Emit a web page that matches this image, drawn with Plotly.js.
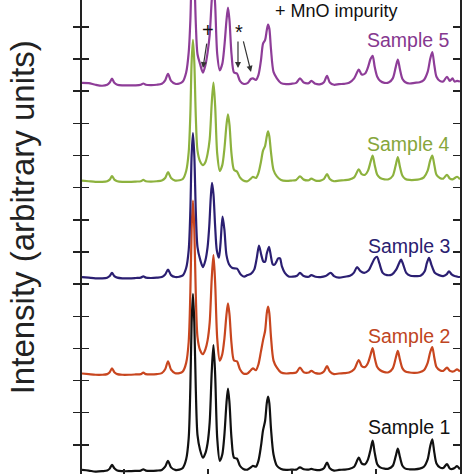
<!DOCTYPE html>
<html>
<head>
<meta charset="utf-8">
<script src="https://cdn.plot.ly/plotly-3.0.1.min.js"></script>
<style>
  html, body { margin: 0; padding: 0; background: #fff; overflow: hidden; }
  #chart { width: 474px; height: 500px; }
</style>
</head>
<body>
<div id="chart"></div>
<script>
// 2-theta grid (degrees) shared by samples 1, 2, 4 and 5
const twoThetaA = [
  15.0, 15.8, 16.6, 17.4, 18.0, 18.3, 18.57, 18.85, 19.2, 19.8, 20.6, 21.4, 22.0, 22.3, 22.6, 23.2, 23.9, 24.5, 24.9, 25.24, 25.6, 26.1, 26.6, 27.0, 27.4, 27.7,
  27.9, 28.05, 28.21, 28.37, 28.55, 28.75, 29.05, 29.4, 29.7, 29.95, 30.2, 30.45, 30.65, 30.85, 31.1, 31.4, 31.7, 31.95, 32.2, 32.38, 32.56, 32.8, 33.1, 33.45,
  33.8, 34.2, 34.7, 35.1, 35.35, 35.7, 36.0, 36.3, 36.55, 36.8, 37.0, 37.15, 37.3, 37.5, 37.8, 38.2, 38.7, 39.3, 39.9,
  40.5, 40.95, 41.4, 42.0, 42.3, 42.8, 43.4, 43.8, 44.17, 44.5, 45.0, 45.6, 46.2, 46.8, 47.4, 47.95, 48.3, 48.7, 49.05, 49.35,
  49.6, 49.85, 50.15, 50.5, 51.0, 51.5, 52.0, 52.35, 52.6, 52.85, 53.15, 53.5, 54.0, 54.6, 55.2, 55.7, 56.15, 56.45, 56.7, 56.95,
  57.2, 57.6, 58.0, 58.45, 58.8, 59.1, 59.35, 59.65, 60.0
];

// 2-theta grid (degrees) for sample 3
const twoThetaB = [
  15.0, 15.8, 16.6, 17.4, 18.0, 18.3, 18.57, 18.85, 19.2, 19.8, 20.6, 21.4, 22.0, 22.3, 22.6, 23.2, 23.9, 24.5, 24.9, 25.24, 25.6, 26.1, 26.6, 27.0, 27.4, 27.7,
  27.9, 28.05, 28.21, 28.37, 28.55, 28.75, 29.05, 29.4, 29.7, 29.95, 30.15, 30.33, 30.48, 30.65, 30.85, 31.05, 31.3, 31.5, 31.73, 31.95, 32.2, 32.5, 32.9, 33.45,
  33.9, 34.3, 34.7, 35.1, 35.5, 35.8, 36.07, 36.35, 36.6, 36.8, 37.0, 37.26, 37.5, 37.7, 37.9, 38.15, 38.35, 38.57, 38.8, 39.15, 39.6, 40.1,
  40.6, 40.95, 41.4, 42.0, 42.3, 42.8, 43.4, 44.0, 44.6, 45.0, 45.6, 46.3, 46.9, 47.35, 47.75, 48.15, 48.6, 49.1, 49.55, 49.85,
  50.12, 50.4, 50.8, 51.3, 51.9, 52.4, 52.75, 52.98, 53.25, 53.6, 54.1, 54.7, 55.3, 55.8, 56.05, 56.31, 56.6, 57.0, 57.5, 58.0,
  58.4, 58.69, 59.0, 59.35, 59.7, 60.0
];

// Measured intensities (arbitrary units, before stacking)
const sample1 = [
  0.02, 0.0, -0.03, -0.02, 0.0, 0.06, 0.18, 0.07, 0.0, -0.02, -0.02, -0.01, 0.0, 0.04, 0.0, -0.01, 0.0, 0.02, 0.12, 0.30, 0.10, 0.02, 0.03, 0.08, 0.35, 1.0,
  2.6, 4.6, 5.5, 4.6, 2.5, 1.1, 0.65, 0.4, 0.55, 0.85, 1.5, 3.1, 3.9, 3.0, 1.0, 0.3, 0.5, 1.1, 2.1, 2.55, 2.1, 1.0, 0.4, 0.37,
  0.15, 0.05, 0.03, 0.1, 0.15, 0.12, 0.3, 0.75, 1.25, 1.55, 2.1, 2.3, 2.1, 1.3, 0.5, 0.15, 0.05, 0.02, 0.03,
  0.03, 0.1, 0.04, 0.03, 0.05, 0.02, 0.02, 0.07, 0.25, 0.07, 0.0, 0.02, 0.03, 0.05, 0.12, 0.4, 0.22, 0.2, 0.35, 0.65,
  0.93, 0.55, 0.2, 0.1, 0.06, 0.06, 0.15, 0.45, 0.68, 0.42, 0.15, 0.06, 0.04, 0.04, 0.06, 0.12, 0.35, 0.75, 0.97, 0.55,
  0.22, 0.1, 0.08, 0.2, 0.06, 0.05, 0.08, 0.14, 0.04
];
const sample2 = [
  0.02, 0.0, -0.02, -0.02, 0.0, 0.06, 0.18, 0.06, 0.0, -0.02, -0.02, -0.01, 0.0, 0.05, 0.0, -0.01, 0.0, 0.03, 0.15, 0.4, 0.14, 0.03, 0.03, 0.08, 0.35, 1.0,
  2.55, 4.5, 5.4, 4.5, 2.45, 1.15, 0.75, 0.62, 0.78, 1.05, 1.6, 3.0, 3.7, 2.85, 1.1, 0.42, 0.62, 1.1, 1.85, 2.2, 1.85, 0.95, 0.42, 0.4,
  0.15, 0.02, 0.02, 0.12, 0.18, 0.12, 0.3, 0.7, 1.05, 1.35, 1.9, 2.1, 1.9, 1.15, 0.42, 0.2, 0.05, 0.02, 0.03,
  0.05, 0.2, 0.06, 0.05, 0.1, 0.03, 0.02, 0.08, 0.25, 0.08, 0.0, 0.02, 0.03, 0.05, 0.15, 0.44, 0.25, 0.22, 0.35, 0.6,
  0.81, 0.5, 0.22, 0.12, 0.06, 0.06, 0.18, 0.5, 0.72, 0.45, 0.18, 0.08, 0.05, 0.04, 0.06, 0.12, 0.35, 0.68, 0.84, 0.5,
  0.22, 0.12, 0.1, 0.2, 0.1, 0.08, 0.1, 0.15, 0.08
];
const sample3 = [
  0.02, 0.0, -0.02, -0.02, 0.0, 0.05, 0.15, 0.05, 0.0, -0.02, -0.02, -0.01, 0.0, 0.04, 0.0, -0.01, 0.0, 0.02, 0.1, 0.25, 0.08, 0.02, 0.03, 0.07, 0.3, 0.85,
  2.1, 3.8, 4.5, 3.8, 2.05, 0.95, 0.58, 0.33, 0.55, 0.95, 1.6, 2.5, 2.95, 2.6, 1.6, 0.85, 0.62, 1.1, 1.9, 1.5, 0.7, 0.42, 0.3, 0.28,
  0.1, 0.03, 0.08, 0.12, 0.25, 0.6, 1.0, 0.7, 0.5, 0.5, 0.75, 0.96, 0.65, 0.42, 0.4, 0.5, 0.6, 0.6, 0.35, 0.15, 0.04, 0.03,
  0.06, 0.15, 0.05, 0.03, 0.08, 0.03, 0.02, 0.05, 0.15, 0.05, 0.0, 0.03, 0.06, 0.15, 0.33, 0.2, 0.15, 0.22, 0.45, 0.6,
  0.65, 0.45, 0.15, 0.08, 0.1, 0.25, 0.45, 0.56, 0.4, 0.15, 0.06, 0.05, 0.06, 0.2, 0.45, 0.62, 0.4, 0.15, 0.08, 0.05,
  0.1, 0.2, 0.1, 0.05, 0.03, 0.02
];
const sample4 = [
  0.02, 0.0, -0.02, -0.02, 0.0, 0.05, 0.16, 0.05, 0.0, -0.02, -0.02, -0.01, 0.0, 0.04, 0.0, -0.01, 0.0, 0.02, 0.1, 0.28, 0.1, 0.02, 0.03, 0.07, 0.32, 0.9,
  2.1, 3.7, 4.4, 3.7, 2.0, 0.95, 0.62, 0.5, 0.6, 0.85, 1.3, 2.45, 3.07, 2.35, 0.85, 0.32, 0.5, 1.0, 1.75, 2.08, 1.75, 0.85, 0.35, 0.3,
  0.12, 0.02, 0.0, 0.08, 0.14, 0.1, 0.25, 0.6, 0.95, 1.1, 1.4, 1.55, 1.4, 0.9, 0.35, 0.15, 0.04, 0.01, 0.02,
  0.04, 0.15, 0.05, 0.03, 0.08, 0.02, 0.02, 0.07, 0.22, 0.07, 0.0, 0.02, 0.03, 0.05, 0.12, 0.37, 0.22, 0.2, 0.33, 0.6,
  0.8, 0.5, 0.2, 0.1, 0.06, 0.06, 0.17, 0.5, 0.75, 0.45, 0.17, 0.07, 0.04, 0.04, 0.06, 0.12, 0.33, 0.65, 0.8, 0.5,
  0.2, 0.1, 0.08, 0.2, 0.08, 0.06, 0.09, 0.14, 0.06
];
const sample5 = [
  0.06, 0.05, 0.0, -0.03, 0.0, 0.07, 0.19, 0.06, 0.0, -0.02, -0.02, -0.02, 0.0, 0.04, 0.0, -0.01, 0.0, 0.03, 0.14, 0.34, 0.12, 0.03, 0.04, 0.1, 0.38, 1.0,
  2.0, 3.4, 4.0, 3.4, 1.9, 0.95, 0.65, 0.38, 0.62, 1.0, 1.55, 2.65, 3.2, 2.5, 0.95, 0.45, 0.65, 1.2, 2.0, 2.4, 2.0, 0.95, 0.38, 0.35,
  0.12, 0.03, 0.05, 0.18, 0.2, 0.15, 0.3, 0.75, 1.28, 1.4, 1.7, 1.87, 1.75, 1.1, 0.4, 0.2, 0.05, 0.02, 0.03,
  0.06, 0.2, 0.07, 0.05, 0.12, 0.03, 0.02, 0.08, 0.28, 0.07, 0.0, 0.02, 0.03, 0.06, 0.2, 0.47, 0.32, 0.35, 0.55, 0.8,
  0.9, 0.55, 0.25, 0.12, 0.06, 0.07, 0.2, 0.55, 0.78, 0.48, 0.18, 0.08, 0.04, 0.06, 0.08, 0.15, 0.4, 0.8, 1.02, 0.6,
  0.25, 0.12, 0.1, 0.25, 0.12, 0.2, 0.1, 0.12, 0.1
];

const sampleNames = ['Sample 1', 'Sample 2', 'Sample 3', 'Sample 4', 'Sample 5'];
const stackOffsets = [0.2, 3.2, 6.2, 9.2, 12.2];

const colors = ['#111111', '#c8461f', '#2b1f72', '#8db23e', '#8e3d98'];
const labelColors = ['#111111', '#bf4522', '#2a2070', '#86a63b', '#86388f'];

const series = [
  { x: twoThetaA, y: sample1 },
  { x: twoThetaA, y: sample2 },
  { x: twoThetaB, y: sample3 },
  { x: twoThetaA, y: sample4 },
  { x: twoThetaA, y: sample5 }
];

const traces = series.map((s, i) => ({
  x: s.x,
  y: s.y.map(v => v + stackOffsets[i]),
  type: 'scatter',
  mode: 'lines',
  name: sampleNames[i],
  line: { color: colors[i], width: 2.2, shape: 'spline', smoothing: 0.8 },
  yaxis: i === 0 ? 'y2' : 'y',
  hoverinfo: 'skip'
}));

// Label anchor positions (2-theta, intensity) for the sample names
const labelX = [59.0, 59.1, 59.1, 59.1, 59.1];
const labelY = [1.55, 4.4, 7.2, 10.35, 13.6];

const annotations = sampleNames.map((name, i) => ({
  x: labelX[i], y: labelY[i], xref: 'x', yref: 'y',
  text: name, showarrow: false, xanchor: 'right', yanchor: 'middle',
  font: { family: 'Liberation Sans, Arial, sans-serif', size: 19.5, color: labelColors[i] }
}));

annotations.push(
  {
    x: -0.158, y: 0.545, xref: 'paper', yref: 'paper',
    text: 'Intensity (arbitrary units)', showarrow: false, textangle: -90,
    xanchor: 'center', yanchor: 'middle',
    font: { family: 'Liberation Sans, Arial, sans-serif', size: 33, color: '#222' }
  },
  {
    x: 37.75, y: 14.5, xref: 'x', yref: 'y', text: '+ MnO impurity', showarrow: false,
    xanchor: 'left', yanchor: 'middle',
    font: { family: 'Liberation Sans, Arial, sans-serif', size: 18, color: '#111' }
  },
  {
    x: 29.99, y: 13.9, xref: 'x', yref: 'y', text: '+', showarrow: false,
    font: { family: 'Liberation Sans, Arial, sans-serif', size: 20, color: '#111' }
  },
  {
    x: 33.69, y: 13.84, xref: 'x', yref: 'y', text: '*', showarrow: false,
    font: { family: 'Liberation Sans, Arial, sans-serif', size: 20, color: '#111' }
  },
  { x: 29.40, y: 12.72, xref: 'x', yref: 'y', text: '', showarrow: true, ax: 4, ay: -26,
    arrowhead: 2, arrowsize: 1, arrowwidth: 1.2, arrowcolor: '#333' },
  { x: 33.57, y: 12.72, xref: 'x', yref: 'y', text: '', showarrow: true, ax: 0, ay: -28,
    arrowhead: 2, arrowsize: 1, arrowwidth: 1.2, arrowcolor: '#333' },
  { x: 35.12, y: 12.60, xref: 'x', yref: 'y', text: '', showarrow: true, ax: -8, ay: -32,
    arrowhead: 2, arrowsize: 1, arrowwidth: 1.2, arrowcolor: '#333' }
);

const yRange = [0, 14.837];

const layout = {
  width: 474,
  height: 500,
  margin: { l: 82, r: 14, t: 0, b: 23, pad: 0 },
  paper_bgcolor: '#fff',
  plot_bgcolor: '#fff',
  showlegend: false,
  xaxis: {
    range: [15, 60], showgrid: false, zeroline: false,
    showline: true, linecolor: '#222', linewidth: 2,
    ticks: 'inside', ticklen: 8, tickwidth: 1.5, tickcolor: '#222',
    tick0: 20, dtick: 10, showticklabels: false
  },
  yaxis: {
    range: yRange, showgrid: false, zeroline: false,
    showline: true, linecolor: '#222', linewidth: 2, mirror: 'ticks',
    ticks: 'inside', ticklen: 7, tickwidth: 1.5, tickcolor: '#222',
    tick0: 0, dtick: 1, showticklabels: false
  },
  yaxis2: {
    range: yRange, overlaying: 'y', side: 'left', showgrid: false, zeroline: false,
    showline: false, ticks: 'outside', ticklen: 8, tickwidth: 1.5, tickcolor: '#222',
    tick0: 0, dtick: 1, showticklabels: false
  },
  annotations: annotations
};

Plotly.newPlot('chart', traces, layout, { staticPlot: true, displayModeBar: false });
</script>
</body>
</html>
